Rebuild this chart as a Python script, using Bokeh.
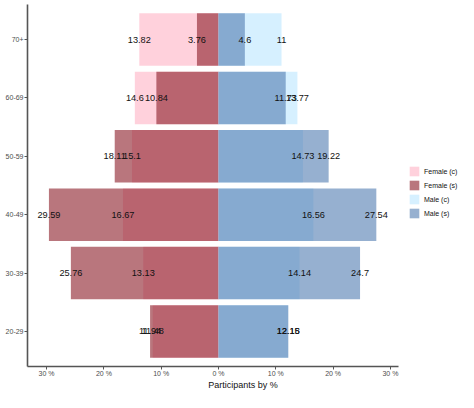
from bokeh.plotting import figure
from bokeh.models import Range1d, FixedTicker, Legend, LegendItem, ColumnDataSource
from bokeh.embed import file_html
from bokeh.resources import INLINE
from bokeh.core.properties import value

# ---- data (bottom to top) ----
age_groups = ["20-29", "30-39", "40-49", "50-59", "60-69", "70+"]
female_c = [11.48, 13.13, 16.67, 15.1, 14.6, 13.82]
female_s = [11.94, 25.76, 29.59, 18.11, 10.84, 3.76]
male_c = [12.15, 14.14, 16.56, 14.73, 13.77, 11]
male_s = [12.18, 24.7, 27.54, 19.22, 11.73, 4.6]
x_ticks = [-30, -20, -10, 0, 10, 20, 30]
x_tick_labels = ["30 %", "20 %", "10 %", "0 %", "10 %", "20 %", "30 %"]

FONT = "Liberation Sans"
ypos = list(range(1, len(age_groups) + 1))

X0, X1 = -33.33, 31.41          # panel limits
X_EXT = 41.88                   # extra room on the right for the legend

p = figure(width=458, height=392, output_backend="svg", toolbar_location=None,
           x_range=Range1d(X0, X_EXT), y_range=Range1d(0.4, 6.6),
           min_border_left=27, min_border_right=0, min_border_top=4, min_border_bottom=18)
p.outline_line_color = None
p.xgrid.visible = False
p.ygrid.visible = False
p.background_fill_color = "white"

series = [
    ("Female (c)", [-v for v in female_c], "#FFB2C5"),
    ("Female (s)", [-v for v in female_s], "#8A1B26"),
    ("Male (c)", male_c, "#BBE6FF"),
    ("Male (s)", male_s, "#507BB1"),
]
items = []
for name, vals, col in series:
    src = ColumnDataSource(dict(y=ypos, right=vals, left=[0] * len(vals)))
    r = p.hbar(y="y", left="left", right="right", height=0.9, source=src,
               fill_color=col, fill_alpha=0.6, line_color=None)
    items.append(LegendItem(label=name, renderers=[r]))

# value labels
for vals_raw, sign in [(female_c, -1), (female_s, -1), (male_c, 1), (male_s, 1)]:
    src = ColumnDataSource(dict(x=[sign * v for v in vals_raw], y=ypos,
                                t=[f"{v:g}" for v in vals_raw]))
    p.text(x="x", y="y", text="t", source=src, text_align="center",
           text_baseline="middle", text_font=value(FONT),
           text_font_size="9.2px", text_color="#111111")

# axes
for ax in (p.xaxis[0], p.yaxis[0]):
    ax.axis_line_color = "#555555"
    ax.axis_line_width = 1.6
    ax.major_tick_line_color = "#555555"
    ax.major_tick_line_width = 1
    ax.major_tick_out = 3
    ax.major_tick_in = 0
    ax.minor_tick_line_color = None
    ax.major_label_text_font = FONT
    ax.major_label_text_font_size = "7px"
    ax.major_label_text_color = "#4D4D4D"
    ax.major_label_standoff = 1

p.xaxis.bounds = (X0, X1)
p.xaxis.ticker = FixedTicker(ticks=x_ticks)
p.xaxis.major_label_overrides = {t: l for t, l in zip(x_ticks, x_tick_labels)}
p.xaxis.major_label_standoff = 0
p.xaxis.axis_label = "Participants by %"
p.xaxis.axis_label_text_font = FONT
p.xaxis.axis_label_text_font_size = "9px"
p.xaxis.axis_label_text_font_style = "normal"
p.xaxis.axis_label_text_color = "#111111"
p.xaxis.axis_label_standoff = 0
p.yaxis.ticker = FixedTicker(ticks=ypos)
p.yaxis.major_label_overrides = {y: g for y, g in zip(ypos, age_groups)}

legend = Legend(items=items, location=(381, 147), orientation="vertical",
                glyph_width=12, glyph_height=12, label_height=12, spacing=2,
                label_standoff=4, padding=0, margin=0,
                label_text_font=FONT, label_text_font_size="7px",
                label_text_color="#111111",
                border_line_color=None, background_fill_alpha=0)
p.add_layout(legend, "center")

open("out.html", "w").write(file_html(p, INLINE))
